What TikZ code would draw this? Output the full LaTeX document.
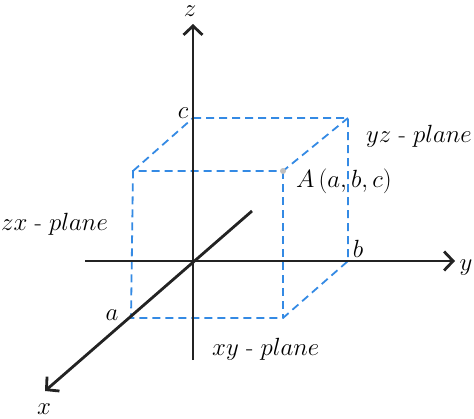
\documentclass[tikz,border=0pt]{standalone}
\usetikzlibrary{arrows.meta}
\definecolor{cubeblue}{RGB}{52,138,228}
\definecolor{axisgray}{RGB}{35,35,35}
\tikzset{
  axis/.style={draw=axisgray,line width=2.8pt,-{Straight Barb[length=9pt,width=19pt,line width=2.8pt]}},
  edge/.style={draw=cubeblue,line width=1.8pt,dash pattern=on 8pt off 5pt},
  lbl/.style={font=\fontsize{24}{26}\selectfont,inner sep=0pt,anchor=base}
}
\begin{document}
\begin{tikzpicture}[x=1pt,y=-1pt]
    \useasboundingbox (0,0) rectangle (474,418);
    % axes
    \coordinate (O) at (193,261);
    \coordinate (zs) at (193,360);
    \coordinate (ze) at (193,24);
    \coordinate (ys) at (85,261);
    \coordinate (ye) at (455,261);
    \coordinate (xs) at (252,211);
    \coordinate (xe) at (45,391);
    % cube corners
    \coordinate (a) at (131,318);
    \coordinate (b) at (348,261);
    \coordinate (c) at (193,118);
    \coordinate (P) at (283,318);
    \coordinate (Q) at (133,171);
    \coordinate (A) at (283,171);
    \coordinate (R) at (348,118);

    \draw[edge] (c) -- (R) -- (b) -- (P) -- (a) -- (Q) -- (A) -- (R);
    \draw[edge] (Q) -- (c);
    \draw[edge] (A) -- (P);

    \draw[axis,-] (zs) -- (O);
    \draw[axis] (O) -- (ze);
    \draw[axis] (ys) -- (ye);
    \draw[axis] (xs) -- (xe);

    \fill[gray!50] (A) circle (3pt);

    \node[lbl] (zlab) at (190,16) {$z$};
    \node[lbl] (ylab) at (466,270) {$y$};
    \node[lbl] (xlab) at (44,414) {$x$};
    \node[lbl] (clab) at (183,118) {$c$};
    \node[lbl] (blab) at (358,257) {$b$};
    \node[lbl] (alab) at (112,320) {$a$};
    \node[lbl,anchor=base west] (Alab) at (296,187) {$A\,(a,b,c)$};
    \node[lbl,anchor=base west] (yzlab) at (366,142) {$yz$ - $plane$};
    \node[lbl,anchor=base west] (zxlab) at (1,230) {$zx$ - $plane$};
    \node[lbl,anchor=base west] (xylab) at (212,355) {$xy$ - $plane$};
\end{tikzpicture}
\end{document}
